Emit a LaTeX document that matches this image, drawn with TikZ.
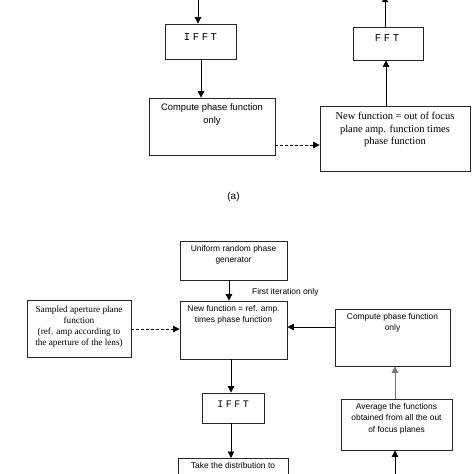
\documentclass[tikz,border=0pt]{standalone}
\usepackage{fontspec}
\setmainfont{Liberation Serif}
\setsansfont{Liberation Sans}
\setmonofont{Liberation Mono}
\usetikzlibrary{arrows.meta}
\begin{document}
\begin{tikzpicture}[x=1pt,y=-1pt,
  box/.style={draw=black!85,line width=0.8pt,rectangle,inner sep=0pt},
  txt/.style={align=center,inner sep=0pt},
  sanstxt/.style={txt,font=\fontsize{8.4}{11.5}\sffamily},
  seriftxt/.style={txt,font=\fontsize{9.2}{11}\rmfamily},
  monotxt/.style={txt,font=\fontsize{10.5}{13}\ttfamily\addfontfeature{LetterSpace=25}},
  arr/.style={line width=0.8pt,-{Triangle[length=6.5pt,width=6.5pt]}},
  darr/.style={arr,densely dashed},
  garr/.style={arr,draw=black!55,line width=0.7pt}]
\useasboundingbox (0,0) rectangle (474,474);
\begin{scope}
\clip (0,0) rectangle (474,474);
% ---------- (a) ----------
\node[box,minimum width=71pt,minimum height=35pt] (ifftA) at (200.5,41.5) {};
\node[monotxt] (ifftAt) at (200.5,37) {IFFT};
\node[box,minimum width=70pt,minimum height=33pt] (fftA) at (388,43.5) {};
\node[monotxt] (fftAt) at (387,38.5) {FFT};
\node[box,minimum width=126pt,minimum height=57pt] (compA) at (212,126.5) {};
\node[sanstxt,font=\fontsize{9.4}{13}\sffamily,anchor=north] (compAt) at (212,103) {Compute phase function\\only};
\node[box,minimum width=150pt,minimum height=65pt] (newA) at (395,138.5) {};
\node[seriftxt,font=\fontsize{10.5}{12.5}\rmfamily,anchor=north] (newAt) at (395,112) {New function = out of focus\\plane amp. function times\\phase function};
\coordinate (topA) at (198,-5);
\coordinate (topB) at (385,-4);
\draw[arr] (topA) -- (topA |- ifftA.north);
\draw[arr] (ifftA.south -| 201,0) -- (201,0 |- compA.north);
\draw[darr] (compA.east |- 0,145) -- (newA.west |- 0,145);
\draw[arr] (386,0 |- newA.north) -- (386,0 |- fftA.south);
\draw[line width=0.8pt,-{Triangle[length=6pt,width=6pt]}] (385,0 |- fftA.north) -- (topB);
\node[font=\fontsize{10}{12}\sffamily,inner sep=0pt] (labA) at (233.5,196.5) {(a)};
% ---------- (b) ----------
\node[box,minimum width=107pt,minimum height=39pt] (unif) at (233.5,260.5) {};
\node[sanstxt,anchor=north] (unift) at (233.5,245) {Uniform random phase\\generator};
\node[box,minimum width=107pt,minimum height=58pt] (newB) at (233.5,330) {};
\node[sanstxt,anchor=north] (newBt) at (233.5,305) {New function = ref. amp.\\times phase function};
\node[sanstxt,anchor=west] (first) at (252,292) {First iteration only};
\node[box,minimum width=104pt,minimum height=57pt] (samp) at (79,328.5) {};
\node[seriftxt,anchor=north] (sampt) at (79,305.5) {Sampled aperture plane\\function\\(ref. amp according to\\the aperture of the lens)};
\node[box,minimum width=115pt,minimum height=57pt] (compB) at (392.5,337.5) {};
\node[sanstxt,anchor=north] (compBt) at (392.5,313) {Compute phase function\\only};
\node[box,minimum width=62pt,minimum height=30pt] (ifftB) at (233,408) {};
\node[monotxt,font=\fontsize{10}{12}\ttfamily\addfontfeature{LetterSpace=25}] (ifftBt) at (233,404) {IFFT};
\node[box,minimum width=110pt,minimum height=40pt,anchor=north] (take) at (233,458) {};
\node[sanstxt,anchor=north] (taket) at (233,462) {Take the distribution to};
\node[box,minimum width=111pt,minimum height=51pt] (avg) at (396.5,424.5) {};
\node[sanstxt,anchor=north] (avgt) at (396.5,403) {Average the functions\\obtained from all the out\\of focus planes};
\coordinate (botB) at (395,480);
\draw[arr] (229,0 |- unif.south) -- (229,0 |- newB.north);
\draw[darr] (samp.east |- 0,329) -- (newB.west |- 0,329);
\draw[arr] (compB.west |- 0,327) -- (newB.east |- 0,327);
\draw[arr] (231,0 |- newB.south) -- (231,0 |- ifftB.north);
\draw[arr] (231,0 |- ifftB.south) -- (231,0 |- take.north);
\draw[garr] (395,0 |- avg.north) -- (395,0 |- compB.south);
\draw[arr] (botB) -- (botB |- avg.south);
\end{scope}
\end{tikzpicture}
\end{document}
